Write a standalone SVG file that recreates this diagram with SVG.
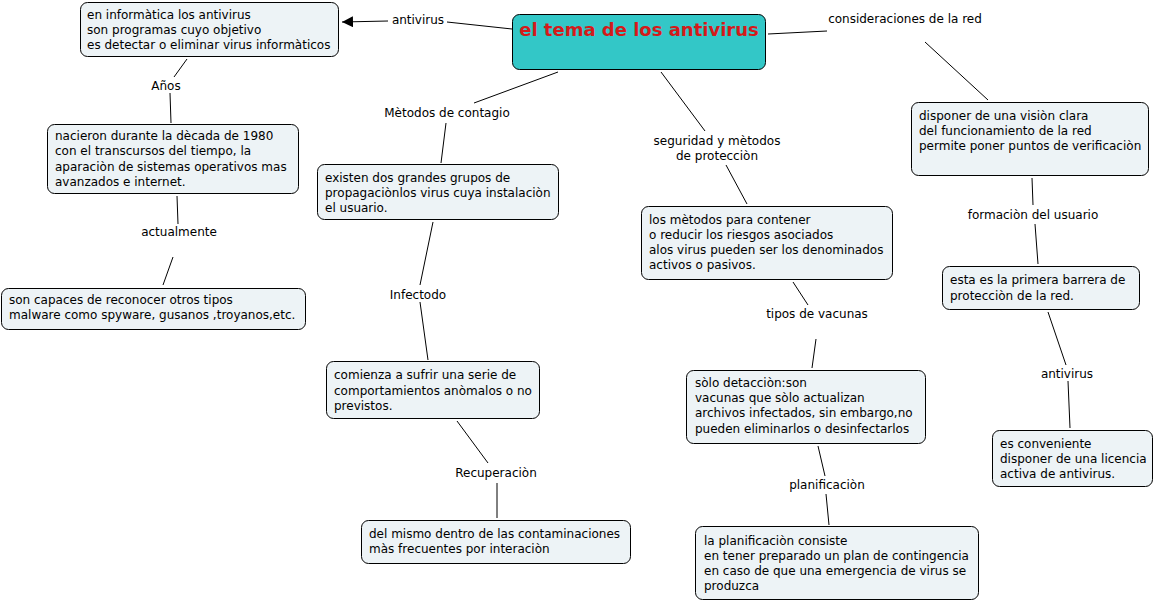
<svg xmlns="http://www.w3.org/2000/svg" width="1155" height="601" viewBox="0 0 1155 601">
<style>
.n{fill:#edf3f6;stroke:#000;stroke-width:1}
.m{fill:#33c7c7;stroke:#000;stroke-width:1}
text{font-family:"DejaVu Sans",Verdana,sans-serif;font-size:12px;fill:#000}
.t{font-size:18px;font-weight:bold;fill:#d41a1a}
.l{text-anchor:middle}
#conn line{stroke:#000;stroke-width:1}
</style>
<defs>
<marker id="ah" viewBox="0 0 10 10" refX="10" refY="5" markerWidth="11" markerHeight="11" markerUnits="userSpaceOnUse" orient="auto">
<path d="M0,0 L10,5 L0,10 z" fill="#000"/>
</marker>
</defs>
<rect width="1155" height="601" fill="#fff"/>
<g id="conn">
<line x1="447" y1="22" x2="512" y2="29"/>
<line x1="388" y1="21" x2="342" y2="22" marker-end="url(#ah)"/>
<line x1="187" y1="59" x2="174" y2="77"/>
<line x1="170" y1="93" x2="171" y2="123"/>
<line x1="177" y1="196" x2="178" y2="224"/>
<line x1="173" y1="257" x2="163" y2="285"/>
<line x1="558" y1="72" x2="474" y2="103"/>
<line x1="446" y1="123" x2="441" y2="163"/>
<line x1="433" y1="222" x2="420" y2="285"/>
<line x1="420" y1="302" x2="428" y2="360"/>
<line x1="457" y1="421" x2="488" y2="463"/>
<line x1="497" y1="483" x2="497" y2="518"/>
<line x1="661" y1="72" x2="705" y2="131"/>
<line x1="726" y1="165" x2="747" y2="204"/>
<line x1="793" y1="282" x2="808" y2="305"/>
<line x1="816" y1="339" x2="812" y2="368"/>
<line x1="818" y1="446" x2="825" y2="476"/>
<line x1="826" y1="494" x2="829" y2="525"/>
<line x1="768" y1="34" x2="827" y2="31"/>
<line x1="925" y1="42" x2="988" y2="100"/>
<line x1="1032" y1="178" x2="1033" y2="205"/>
<line x1="1035" y1="224" x2="1038" y2="264"/>
<line x1="1048" y1="312" x2="1066" y2="365"/>
<line x1="1068" y1="381" x2="1070" y2="428"/>
</g>
<g id="labels">
<text class="l" x="418" y="24">antivirus</text>
<text class="l" x="166" y="90">Años</text>
<text class="l" x="179" y="236">actualmente</text>
<text class="l" x="447" y="117">Mètodos de contagio</text>
<text class="l" x="418" y="299">Infectodo</text>
<text class="l" x="496" y="477">Recuperaciòn</text>
<text class="l" x="717" y="145">seguridad y mètodos</text>
<text class="l" x="717" y="160">de protecciòn</text>
<text class="l" x="817" y="318">tipos de vacunas</text>
<text class="l" x="827" y="489">planificaciòn</text>
<text class="l" x="905" y="23">consideraciones de la red</text>
<text class="l" x="1033" y="219">formaciòn del usuario</text>
<text class="l" x="1067" y="378">antivirus</text>
</g>
<g id="main">
<rect class="m" x="512.5" y="14.5" width="253" height="55" rx="7"/>
<text class="t l" x="639" y="36">el tema de los antivirus</text>
</g>
<g id="n1">
<rect class="n" x="80.5" y="2.5" width="258" height="54" rx="7"/>
<text x="87" y="19">en informàtica los antivirus</text>
<text x="87" y="34">son programas cuyo objetivo</text>
<text x="87" y="49">es detectar o eliminar virus informàticos</text>
</g>
<g id="n2">
<rect class="n" x="47.5" y="124.5" width="251" height="69" rx="7"/>
<text x="55" y="140">nacieron durante la dècada de 1980</text>
<text x="55" y="155">con el transcursos del tiempo, la</text>
<text x="55" y="171">aparaciòn de sistemas operativos mas</text>
<text x="55" y="186">avanzados e internet.</text>
</g>
<g id="n3">
<rect class="n" x="1.5" y="288.5" width="304" height="41" rx="7"/>
<text x="9" y="304">son capaces de reconocer otros tipos</text>
<text x="9" y="319">malware como spyware, gusanos ,troyanos,etc.</text>
</g>
<g id="n4">
<rect class="n" x="317.5" y="164.5" width="241" height="55" rx="7"/>
<text x="325" y="182">existen dos grandes grupos de</text>
<text x="325" y="197">propagaciònlos virus cuya instalaciòn</text>
<text x="325" y="212">el usuario.</text>
</g>
<g id="n5">
<rect class="n" x="326.5" y="361.5" width="213" height="57" rx="7"/>
<text x="334" y="379">comienza a sufrir una serie de</text>
<text x="334" y="395">comportamientos anòmalos o no</text>
<text x="334" y="410">previstos.</text>
</g>
<g id="n6">
<rect class="n" x="361.5" y="520.5" width="269" height="43" rx="7"/>
<text x="369" y="538">del mismo dentro de las contaminaciones</text>
<text x="369" y="553">màs frecuentes por interaciòn</text>
</g>
<g id="n7">
<rect class="n" x="641.5" y="206.5" width="251" height="73" rx="7"/>
<text x="649" y="224">los mètodos para contener</text>
<text x="649" y="239">o reducir los riesgos asociados</text>
<text x="649" y="254">alos virus pueden ser los denominados</text>
<text x="649" y="269">activos o pasivos.</text>
</g>
<g id="n8">
<rect class="n" x="686.5" y="370.5" width="239" height="73" rx="7"/>
<text x="695" y="387">sòlo detacciòn:son</text>
<text x="695" y="402">vacunas que sòlo actualizan</text>
<text x="695" y="417">archivos infectados, sin embargo,no</text>
<text x="695" y="433">pueden eliminarlos o desinfectarlos</text>
</g>
<g id="n9">
<rect class="n" x="695.5" y="526.5" width="283" height="73" rx="7"/>
<text x="704" y="545">la planificaciòn consiste</text>
<text x="704" y="560">en tener preparado un plan de contingencia</text>
<text x="704" y="575">en caso de que una emergencia de virus se</text>
<text x="704" y="590">produzca</text>
</g>
<g id="n10">
<rect class="n" x="911.5" y="102.5" width="237" height="73" rx="7"/>
<text x="919" y="120">disponer de una visiòn clara</text>
<text x="919" y="135">del funcionamiento de la red</text>
<text x="919" y="150">permite poner puntos de verificaciòn</text>
</g>
<g id="n11">
<rect class="n" x="942.5" y="266.5" width="197" height="43" rx="7"/>
<text x="950" y="284">esta es la primera barrera de</text>
<text x="950" y="300">protecciòn de la red.</text>
</g>
<g id="n12">
<rect class="n" x="992.5" y="430.5" width="160" height="56" rx="7"/>
<text x="1000" y="448">es conveniente</text>
<text x="1000" y="463">disponer de una licencia</text>
<text x="1000" y="478">activa de antivirus.</text>
</g>
</svg>
